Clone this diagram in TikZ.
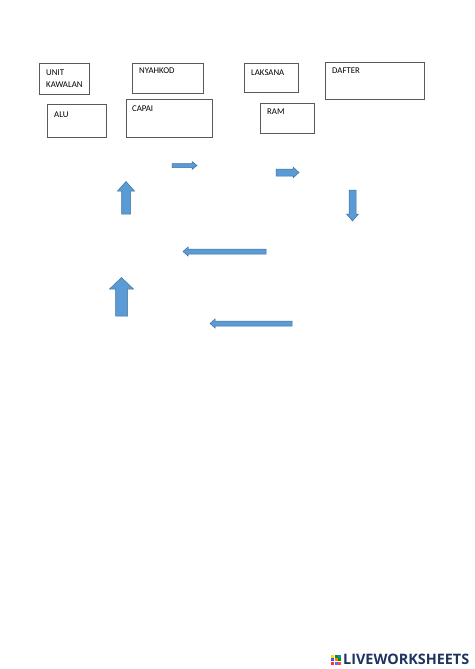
\documentclass[tikz,border=0pt]{standalone}
\usepackage{fontspec}
\setmainfont{Carlito}
\newfontfamily\lwfont{Open Sans}
\usepackage{xcolor}

\definecolor{arrowfill}{HTML}{5B9BD5}
\definecolor{arrowline}{HTML}{41719C}
\definecolor{lwnavy}{HTML}{1D3461}

\begin{document}
\begin{tikzpicture}[x=1pt, y=-1pt,
    box/.style={draw=black!65, line width=0.7pt, anchor=north west, inner sep=0pt},
    lbl/.style={anchor=base west, inner sep=0pt, align=left, font=\fontsize{8.8}{11.7}\selectfont},
    blockarrow/.style={fill=arrowfill, draw=arrowline, line width=0.5pt, line join=miter}]
  % Page
  \useasboundingbox[fill=white] (0,0) rectangle (474,669);

  % Boxes, top left corner at the coordinate
  \node[box, minimum width=50, minimum height=31] (unit) at (39,63) {};
  \node[box, minimum width=71, minimum height=30] (nyahkod) at (132,63) {};
  \node[box, minimum width=54, minimum height=29] (laksana) at (244,63) {};
  \node[box, minimum width=99, minimum height=37] (dafter) at (325,62) {};
  \node[box, minimum width=59, minimum height=33] (alu) at (47,104) {};
  \node[box, minimum width=86, minimum height=38] (capai) at (126,99) {};
  \node[box, minimum width=54, minimum height=30] (ram) at (260,103) {};

  % Labels in the top left of each box (base of a two line label is its last line)
  \node[lbl] (unitlbl) at ([shift={(7,24.2)}]unit.north west) {UNIT\\KAWALAN};
  \node[lbl] (nyahkodlbl) at ([shift={(7,11)}]nyahkod.north west) {NYAHKOD};
  \node[lbl] (laksanalbl) at ([shift={(7,12)}]laksana.north west) {LAKSANA};
  \node[lbl] (dafterlbl) at ([shift={(7,12)}]dafter.north west) {DAFTER};
  \node[lbl] (alulbl) at ([shift={(7,13)}]alu.north west) {ALU};
  \node[lbl] (capailbl) at ([shift={(6,12)}]capai.north west) {CAPAI};
  \node[lbl] (ramlbl) at ([shift={(7,11)}]ram.north west) {RAM};

  % Right arrows
  \filldraw[blockarrow] (172,163.5) -- (192,163.5) -- (192,161.5) -- (197,165.5)
    -- (192,169.5) -- (192,167.5) -- (172,167.5) -- cycle;
  \filldraw[blockarrow] (276,169) -- (293,169) -- (293,167) -- (299,172.5)
    -- (293,178) -- (293,176) -- (276,176) -- cycle;

  % Down arrow
  \filldraw[blockarrow] (349,190) -- (349,214) -- (346.5,214) -- (352.5,221)
    -- (358.5,214) -- (356,214) -- (356,190) -- cycle;

  % Left arrows
  \filldraw[blockarrow] (266,249) -- (188,249) -- (188,247) -- (183,251.5)
    -- (188,256) -- (188,254) -- (266,254) -- cycle;
  \filldraw[blockarrow] (292,321) -- (215,321) -- (215,319) -- (210,323.5)
    -- (215,328) -- (215,326) -- (292,326) -- cycle;

  % Up arrows
  \filldraw[blockarrow] (121.5,214) -- (121.5,191) -- (117.5,191) -- (126,181.5)
    -- (134.5,191) -- (130.5,191) -- (130.5,214) -- cycle;
  \filldraw[blockarrow] (115.5,316) -- (115.5,289) -- (109.5,289) -- (121.5,277.5)
    -- (133.5,289) -- (127.5,289) -- (127.5,316) -- cycle;

  % Watermark, bottom right
  \foreach \i/\j/\c in {0/0/yellow!80!orange, 1/0/green!60!black, 2/0/cyan!70!blue,
                        0/1/blue!70, 1/1/orange, 2/1/green!60!black,
                        0/2/red!80, 1/2/blue!60, 2/2/red!70}
    \fill[\c] (331+\i*3.7,655+\j*3.4) rectangle ++(3,2.8);
  \node[anchor=west, inner sep=0pt, text=lwnavy, font=\lwfont\bfseries\fontsize{14.4}{16}\selectfont]
    (lw) at (343,659.8) {LIVEWORKSHEETS};
\end{tikzpicture}
\end{document}
